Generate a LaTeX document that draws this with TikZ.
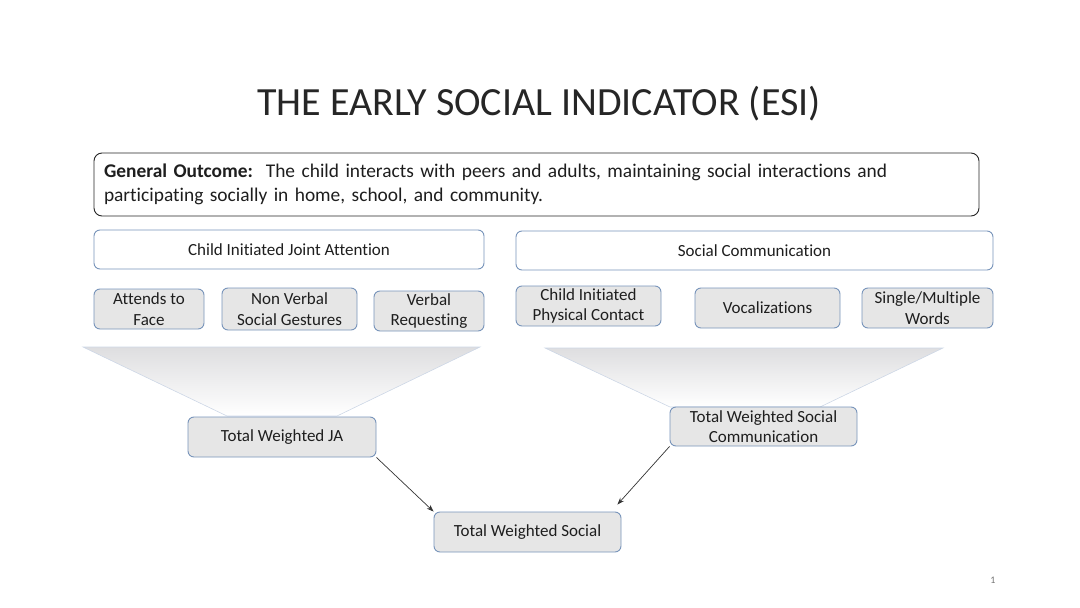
\documentclass[tikz,border=0pt]{standalone}
\usepackage{fontspec}
\setmainfont{Carlito}[Ligatures={NoCommon}]
\usetikzlibrary{arrows.meta, positioning, shapes, calc}

\definecolor{boxedge}{RGB}{120,148,186}
\definecolor{boxfill}{RGB}{230,230,230}
\definecolor{funnelfill}{RGB}{222,222,224}
\definecolor{funneledge}{RGB}{205,215,230}
\definecolor{inktext}{RGB}{30,30,30}

\tikzset{
    group/.style={draw=boxedge, fill=white, rounded corners=6pt, minimum height=39pt, line width=0.9pt,
        inner sep=0pt, text=inktext, font=\fontsize{17}{20.5}\selectfont},
    item/.style={draw=boxedge, fill=boxfill, rounded corners=6pt, minimum height=40pt, line width=0.9pt,
        inner sep=0pt, align=center, text=inktext, font=\fontsize{17}{20.5}\selectfont},
    funnel/.style={draw=funneledge, top color=funnelfill, bottom color=white, line width=0.6pt},
    link/.style={-{Stealth[length=7pt,width=5pt]}, draw=black!80, line width=0.7pt},
}

\begin{document}
\begin{tikzpicture}[x=1pt, y=-1pt]
    \useasboundingbox (0,0) rectangle (1080,608);

    \shade[funnel] (83,347) -- (480,347) -- (337,416) -- (227,416) -- cycle;
    \shade[funnel] (545,348) -- (943,348) -- (820,407) -- (670,407) -- cycle;

    \node (title) [text=black!85] at (539,104) {\fontsize{40}{46}\selectfont THE EARLY SOCIAL INDICATOR (ESI)};

    \node (outcome) [draw=black!85, fill=white, rounded corners=8pt, line width=0.9pt, minimum width=885pt, minimum height=63pt,
        text width=865pt, align=left, inner sep=0pt, text=inktext, font=\fontsize{19.4}{24}\selectfont]
        at (536.5,184.5) {\textbf{General Outcome:}\ \ The child interacts with peers and adults, maintaining social interactions and\\
        participating socially in home, school, and community.};

    \node (ja) [group, minimum width=390pt] at (289,249.5) {Child Initiated Joint Attention};
    \node (sc) [group, minimum width=477pt] at (754.5,250.5) {Social Communication};

    \node (face) [item, minimum width=110pt] at (149,309) {Attends to\\Face};
    \node (gest) [item, minimum width=135pt, minimum height=42pt] at (289.5,309) {Non Verbal\\Social Gestures};
    \node (req) [item, minimum width=110pt] at (429,311) {Verbal\\Requesting};
    \node (touch) [item, minimum width=145pt] at (588.5,306) {Child Initiated\\Physical Contact};
    \node (voc) [item, minimum width=145pt] at (767.5,308) {Vocalizations};
    \node (words) [item, minimum width=131pt] at (927.5,308) {Single/Multiple\\Words};

    \node (totja) [item, minimum width=188pt] at (282,437) {Total Weighted JA};
    \node (totsc) [item, minimum width=187pt, minimum height=39pt] at (763.5,426.5) {Total Weighted Social\\Communication};
    \node (total) [item, minimum width=187pt] at (527.5,532) {Total Weighted Social};

    \draw[link] (totja.south east) -- (total.north west);
    \draw[link] (totsc.south west) -- ($(total.north east)+(-4,-7)$);

    \node (page) [text=black!55, font=\fontsize{10}{12}\selectfont] at (993,580) {1};
\end{tikzpicture}
\end{document}
